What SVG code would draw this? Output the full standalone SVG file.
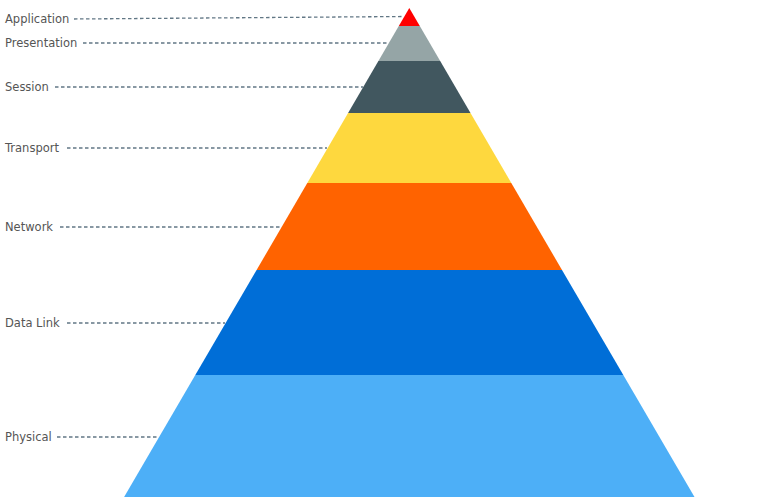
<svg xmlns="http://www.w3.org/2000/svg" width="768" height="504" viewBox="0 0 768 504">
<style>
.lbl{font-family:"DejaVu Sans","Liberation Sans",sans-serif;font-size:11.5px;fill:#555;dominant-baseline:central}
.ln{stroke:#627785;stroke-width:1.3;stroke-dasharray:3.5 2.5;fill:none}
</style>
<rect width="768" height="504" fill="#fff"/>
<g id="pyramid">
<g id="application"><polygon points="409.3,8 398.8,26 419.8,26" fill="#ff0000"/></g>
<g id="presentation"><polygon points="398.8,26 419.8,26 440.2,61 378.4,61" fill="#95a5a6"/></g>
<g id="session"><polygon points="378.4,61 440.2,61 470.5,113 348.1,113" fill="#41575f"/></g>
<g id="transport"><polygon points="348.1,113 470.5,113 511.3,183 307.3,183" fill="#fed83e"/></g>
<g id="network"><polygon points="307.3,183 511.3,183 562,270 256.6,270" fill="#ff6300"/></g>
<g id="datalink"><polygon points="256.6,270 562,270 623.3,375 195.3,375" fill="#006ed7"/></g>
<g id="physical"><polygon points="195.3,375 623.3,375 694.5,497 124.1,497" fill="#4daff7"/></g>
</g>
<g id="connectors">
<line class="ln" x1="74" y1="19" x2="404" y2="16.5"/>
<line class="ln" x1="83" y1="43" x2="387" y2="43"/>
<line class="ln" x1="55" y1="87" x2="363" y2="87"/>
<line class="ln" x1="67" y1="148" x2="327" y2="148"/>
<line class="ln" x1="60" y1="227" x2="281" y2="227"/>
<line class="ln" x1="67" y1="323" x2="225" y2="323"/>
<line class="ln" x1="57" y1="437" x2="159" y2="437"/>
</g>
<g id="labels">
<text class="lbl" x="5" y="19">Application</text>
<text class="lbl" x="5" y="43">Presentation</text>
<text class="lbl" x="5" y="87">Session</text>
<text class="lbl" x="5" y="148">Transport</text>
<text class="lbl" x="5" y="227">Network</text>
<text class="lbl" x="5" y="323">Data Link</text>
<text class="lbl" x="5" y="437">Physical</text>
</g>
</svg>
